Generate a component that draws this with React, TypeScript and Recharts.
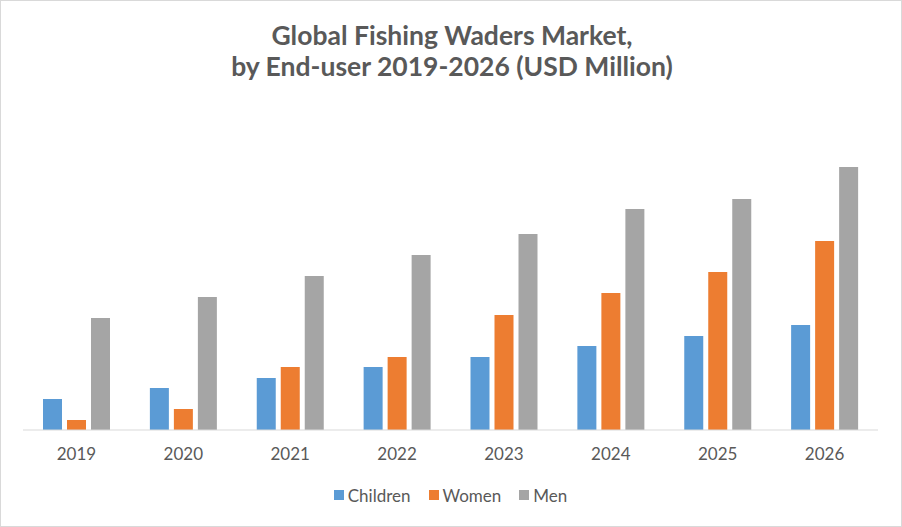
import React from "react";
import { BarChart, Bar, XAxis, YAxis, Legend } from "recharts";

const years = ["2019", "2020", "2021", "2022", "2023", "2024", "2025", "2026"];
const children = [31, 42, 52, 63, 73, 84, 94, 105];
const women = [10, 21, 63, 73, 115, 137, 158, 189];
const men = [112, 133, 154, 175, 196, 221, 231, 263];

const seriesInfo = [
  { key: "Children", color: "#5B9BD5" },
  { key: "Women", color: "#ED7D31" },
  { key: "Men", color: "#A5A5A5" },
];

const data = years.map((y, i) => ({
  year: y,
  Children: children[i],
  Women: women[i],
  Men: men[i],
}));

const FONT = "Lato, 'Open Sans', sans-serif";

const LegendContent = () => (
  <div
    style={{
      height: 50,
      display: "flex",
      justifyContent: "center",
      alignItems: "center",
      fontFamily: FONT,
      fontSize: 17,
      color: "#595959",
    }}
  >
    {seriesInfo.map((s, i) => (
      <div
        key={s.key}
        style={{ display: "flex", alignItems: "center", marginLeft: i === 0 ? 0 : 18 }}
      >
        <span
          style={{ width: 10, height: 10, background: s.color, display: "inline-block", marginRight: 4 }}
        />
        <span>{s.key}</span>
      </div>
    ))}
  </div>
);

export default function App() {
  return (
    <div
      style={{
        position: "absolute",
        left: 0,
        top: 0,
        width: 902,
        height: 527,
        boxSizing: "border-box",
        border: "1px solid #D9D9D9",
        background: "#FFFFFF",
      }}
    >
      <div
        style={{
          position: "absolute",
          left: 0,
          top: 19,
          width: 902,
          textAlign: "center",
          fontFamily: FONT,
          fontWeight: 700,
          fontSize: 26.5,
          lineHeight: "31px",
          color: "#595959",
        }}
      >
        <div>Global Fishing Waders Market,</div>
        <div>by End-user 2019-2026 (USD Million)</div>
      </div>
      <div style={{ position: "absolute", left: -1, top: -1 }}>
        <BarChart
          width={902}
          height={527}
          data={data}
          margin={{ top: 130, right: 24, bottom: 7, left: 23 }}
          barGap={5}
          barSize={19}
        >
          <XAxis
            dataKey="year"
            height={40}
            tickLine={false}
            tickSize={0}
            tickMargin={18}
            axisLine={{ stroke: "#D9D9D9", strokeWidth: 1 }}
            tick={{ fill: "#595959", fontSize: 17, fontFamily: FONT }}
          />
          <YAxis hide domain={[0, 300]} />
          <Legend verticalAlign="bottom" height={50} content={<LegendContent />} />
          {seriesInfo.map((s) => (
            <Bar key={s.key} dataKey={s.key} fill={s.color} isAnimationActive={false} />
          ))}
        </BarChart>
      </div>
    </div>
  );
}
